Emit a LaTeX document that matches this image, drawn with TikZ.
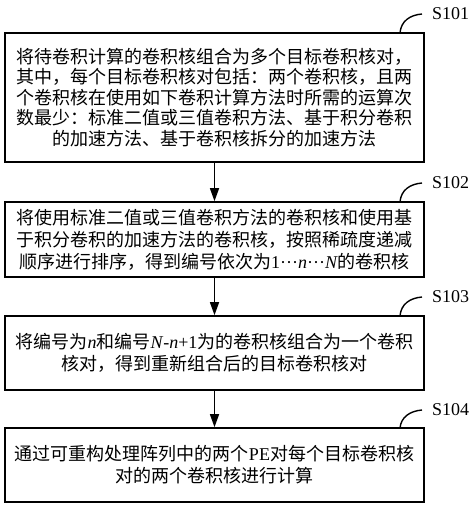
\documentclass[tikz,border=0pt]{standalone}
\usepackage{fontspec}
\setmainfont{Liberation Serif}
\newfontfamily\cjk{Noto Sans CJK SC}
\usetikzlibrary{arrows.meta}
\begin{document}
\begin{tikzpicture}[x=1pt,y=-1pt,
  stepbox/.style={draw,line width=1.6pt,minimum width=419pt,inner sep=0pt,align=center,
    font=\cjk\fontsize{18}{22}\selectfont},
  flow/.style={line width=1.4pt,-{Triangle[width=9pt,length=13pt]}},
  tag/.style={font=\fontsize{18}{20}\selectfont,inner sep=0pt},
  hook/.style={line width=1.4pt}]
\useasboundingbox (0,0) rectangle (474,508);
\node[stepbox,minimum height=129pt,font=\cjk\fontsize{18}{20.5}\selectfont] (b1) at (214.5,97.5) {将待卷积计算的卷积核组合为多个目标卷积核对，\\其中，每个目标卷积核对包括：两个卷积核，且两\\个卷积核在使用如下卷积计算方法时所需的运算次\\数最少：标准二值或三值卷积方法、基于积分卷积\\的加速方法、基于卷积核拆分的加速方法};
\node[stepbox,minimum height=75pt] (b2) at (214.5,239.5) {将使用标准二值或三值卷积方法的卷积核和使用基\\于积分卷积的加速方法的卷积核，按照稀疏度递减\\顺序进行排序，得到编号依次为{\rmfamily 1\textperiodcentered\textperiodcentered\textperiodcentered\textit{n}\textperiodcentered\textperiodcentered\textperiodcentered\textit{N}}的卷积核};
\node[stepbox,minimum height=74pt] (b3) at (214.5,353) {将编号为{\rmfamily\itshape n}和编号{\rmfamily\textit{N}-\textit{n}+1}为的卷积核组合为一个卷积\\核对，得到重新组合后的目标卷积核对};
\node[stepbox,minimum height=74pt] (b4) at (214.5,465) {通过可重构处理阵列中的两个{\rmfamily PE}对每个目标卷积核\\对的两个卷积核进行计算};
\draw[flow] (b1.south) -- (b2.north);
\draw[flow] (b2.south) -- (b3.north);
\draw[flow] (b3.south) -- (b4.north);
\node[tag,anchor=west] (t1) at (432,14) {S101};
\node[tag,anchor=west] (t2) at (432,183) {S102};
\node[tag,anchor=west] (t3) at (432,297) {S103};
\node[tag,anchor=west] (t4) at (432,410) {S104};
\coordinate (c1) at (400,33);
\coordinate (c2) at (400,202);
\coordinate (c3) at (400,316);
\coordinate (c4) at (400,428);
\coordinate (e1) at (422,14);
\coordinate (e2) at (422,183);
\coordinate (e3) at (422,297);
\coordinate (e4) at (422,410);
\draw[hook] (c1) .. controls (401,21) and (410,15) .. (e1);
\draw[hook] (c2) .. controls (401,190) and (410,184) .. (e2);
\draw[hook] (c3) .. controls (401,304) and (410,298) .. (e3);
\draw[hook] (c4) .. controls (401,417) and (410,411) .. (e4);
\end{tikzpicture}
\end{document}
